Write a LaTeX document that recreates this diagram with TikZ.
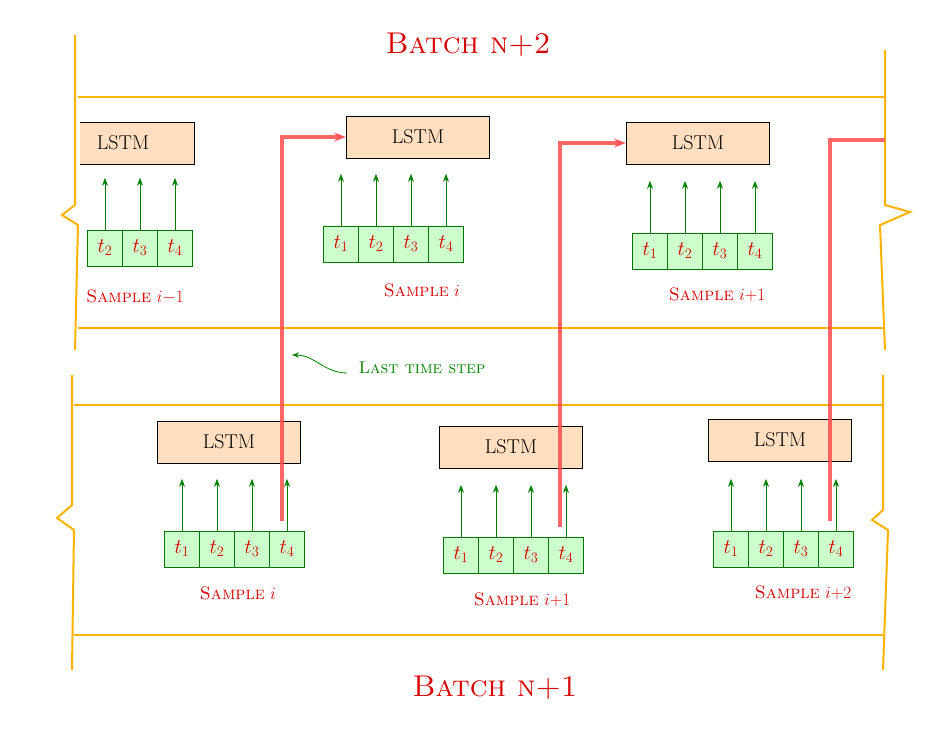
\documentclass[tikz,border=0pt]{standalone}
\usetikzlibrary{arrows.meta}
\begin{document}
\begin{tikzpicture}[x=1pt,y=-1pt,
 yl/.style={draw=orange!60!yellow,line width=2pt},
 lstm/.style={draw=black,fill=orange!25,line width=0.9pt,minimum width=143pt,minimum height=42pt,inner sep=0pt,font=\fontsize{20}{22}\selectfont},
 cell/.style={draw=green!45!black,fill=green!20,minimum width=35pt,minimum height=36pt,inner sep=0pt,text=red!85!black,font=\fontsize{20}{22}\selectfont},
 up/.style={-{Stealth[length=8pt]},draw=green!50!black,line width=0.9pt},
 red/.style={draw=red!70,line width=4pt,opacity=0.85,-{Stealth[length=12pt]}},
 lab/.style={text=red!85!black,font=\fontsize{18}{20}\selectfont}]
\useasboundingbox (0,0) rectangle (940,745);
% batch borders
\draw[yl] (75,35) -- (75,205) -- (62,215) -- (78,225) -- (75,350);
\draw[yl] (885,50) -- (885,205) -- (910,212) -- (880,225) -- (885,350);
\draw[yl] (78,97) -- (885,97);
\draw[yl] (78,328) -- (885,328);
\draw[yl] (72,375) -- (72,505) -- (57,518) -- (74,530) -- (72,670);
\draw[yl] (883,375) -- (883,510) -- (872,520) -- (888,530) -- (883,670);
\draw[yl] (74,405) -- (883,405);
\draw[yl] (74,635) -- (883,635);
\node[text=red!85!black,font=\fontsize{30}{32}\selectfont] (bt) at (468,45) {\textsc{Batch n+2}};
\node[text=red!85!black,font=\fontsize{30}{32}\selectfont] (bb) at (495,688) {\textsc{Batch n+1}};
% top row
\begin{scope}
\clip (80,100) rectangle (880,325);
\node[lstm] (L1) at (123,143) {LSTM};
\end{scope}
\node[lstm] (L2) at (418,137) {LSTM};
\node[lstm] (L3) at (698,143) {LSTM};
\node[cell] (a2) at (105,248) {$t_2$};
\node[cell] (a3) at (140,248) {$t_3$};
\node[cell] (a4) at (175,248) {$t_4$};
\foreach \c in {a2,a3,a4}{\draw[up] (\c.north) -- ++(0,-52);}
\foreach \i/\x in {1/341,2/376,3/411,4/446}{\node[cell] (b\i) at (\x,244) {$t_\i$};\draw[up] (b\i.north) -- ++(0,-52);}
\foreach \i/\x in {1/650,2/685,3/720,4/755}{\node[cell] (c\i) at (\x,251) {$t_\i$};\draw[up] (c\i.north) -- ++(0,-52);}
\node[lab] (s1) at (135,297) {\textsc{Sample} $i{-}1$};
\node[lab] (s2) at (422,290) {\textsc{Sample} $i$};
\node[lab] (s3) at (717,295) {\textsc{Sample} $i{+}1$};
% bottom row
\node[lstm] (M1) at (229,442) {LSTM};
\node[lstm] (M2) at (511,447) {LSTM};
\node[lstm] (M3) at (780,440) {LSTM};
\foreach \i/\x in {1/182,2/217,3/252,4/287}{\node[cell] (d\i) at (\x,549) {$t_\i$};\draw[up] (d\i.north) -- ++(0,-52);}
\foreach \i/\x in {1/461,2/496,3/531,4/566}{\node[cell] (e\i) at (\x,555) {$t_\i$};\draw[up] (e\i.north) -- ++(0,-52);}
\foreach \i/\x in {1/731,2/766,3/801,4/836}{\node[cell] (f\i) at (\x,549) {$t_\i$};\draw[up] (f\i.north) -- ++(0,-52);}
\node[lab] (s4) at (238,593) {\textsc{Sample} $i$};
\node[lab] (s5) at (522,600) {\textsc{Sample} $i{+}1$};
\node[lab] (s6) at (803,593) {\textsc{Sample} $i{+}2$};
% last time step connections
\draw[red] (d4.north) ++(-5,-10) |- (L2.west);
\draw[red] (e4.north) ++(-6,-10) |- (L3.west);
\coordinate (re) at (885,140);
\draw[red,-] (f4.north) ++(-6,-10) |- (re);
\node[text=green!50!black,font=\fontsize{17}{19}\selectfont,anchor=west] (lts) at (355,368) {\textsc{Last time step}};
\draw[-{Stealth[length=7pt]},draw=green!50!black,line width=0.8pt] (lts.west) ++(-8,5) to[out=180,in=0] (292,355);
\end{tikzpicture}
\end{document}
